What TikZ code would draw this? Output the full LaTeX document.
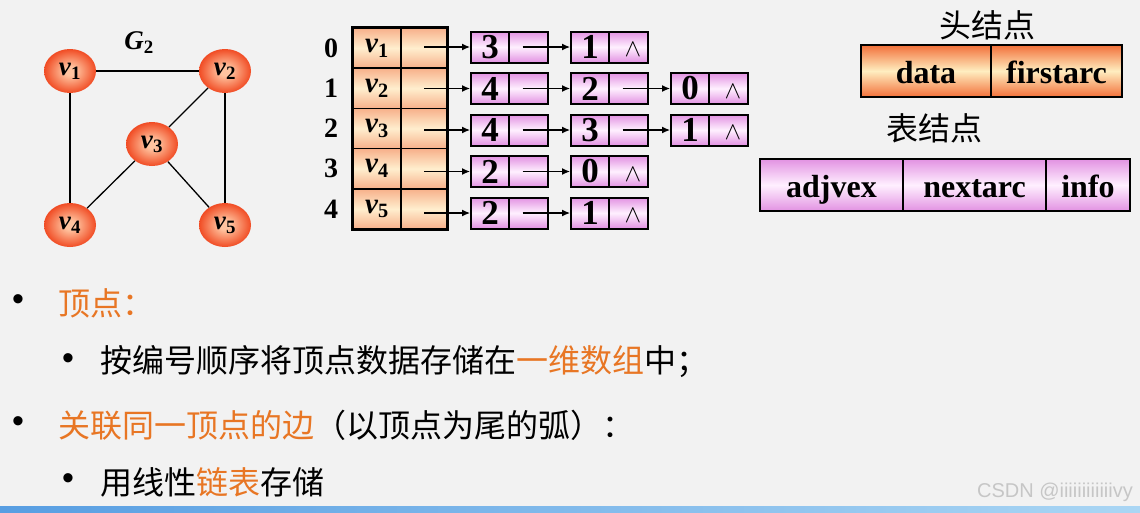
\documentclass[tikz,border=0pt]{standalone}
\usepackage{xcolor}
\usepackage{fontspec}
\setmainfont{Liberation Serif}
\newfontfamily\cjkfont{Noto Sans CJK SC}
\newfontfamily\markfont{Liberation Sans}
\usepackage{tikz}
\usetikzlibrary{shapes.geometric, arrows.meta, positioning, calc}
\definecolor{slideBg}{RGB}{242, 242, 242}
\definecolor{ballRed}{RGB}{240, 70, 30}
\definecolor{ballLight}{RGB}{255, 196, 160}
\definecolor{headTop}{RGB}{242, 112, 58}
\definecolor{headMid}{RGB}{255, 238, 192}
\definecolor{cellTop}{RGB}{247, 176, 138}
\definecolor{cellMid}{RGB}{255, 238, 206}
\definecolor{arcTop}{RGB}{226, 146, 226}
\definecolor{arcMid}{RGB}{255, 240, 255}
\definecolor{hiOrange}{RGB}{232, 118, 36}
\definecolor{barBlue}{RGB}{88, 158, 226}
\definecolor{barLight}{RGB}{170, 214, 244}
\pgfdeclareradialshading{vball}{\pgfpoint{0bp}{0bp}}{%
  color(0bp)=(ballLight); color(5bp)=(ballLight); color(26bp)=(ballRed); color(50bp)=(ballRed)}
\newcommand{\vlab}[1]{\textit{v}\textsubscript{#1}}
\tikzset{
  vert/.style={
    ellipse, minimum width=52pt, minimum height=44pt, inner sep=0pt,
    shading=vball, font=\fontsize{27}{27}\selectfont\bfseries
  },
  edge/.style={line width=1.3pt},
  idx/.style={font=\fontsize{28}{28}\selectfont\bfseries},
  hcell/.style={
    rectangle, draw=black, line width=1.5pt, inner sep=0pt,
    minimum height=40.2pt,
    top color=cellTop, bottom color=cellTop, middle color=cellMid,
    font=\fontsize{29}{29}\selectfont\bfseries
  },
  acell/.style={
    rectangle, draw=black, line width=2pt, inner sep=0pt,
    minimum height=31pt,
    top color=arcTop, bottom color=arcTop, middle color=arcMid,
    font=\fontsize{35}{35}\selectfont\bfseries
  },
  nullmark/.style={inner sep=0pt, font=\fontsize{24}{24}\selectfont},
  ptr/.style={-{Latex[length=8pt,width=7pt]}, line width=1.2pt},
  headbox/.style={
    rectangle, draw=black, line width=2.4pt, inner sep=0pt,
    minimum height=52pt, text height=24pt, text depth=0pt,
    top color=headTop, bottom color=headTop, middle color=headMid,
    font=\fontsize{32}{32}\selectfont\bfseries
  },
  arcbox/.style={
    rectangle, draw=black, line width=2.4pt, inner sep=0pt,
    minimum height=52pt, text height=24pt, text depth=0pt,
    top color=arcTop, bottom color=arcTop, middle color=arcMid,
    font=\fontsize{32}{32}\selectfont\bfseries
  },
  cjkhead/.style={font=\cjkfont\fontsize{32}{32}\selectfont},
  bline/.style={anchor=west, inner sep=0pt, font=\cjkfont\fontsize{32}{32}\selectfont},
  bul/.style={inner sep=0pt, font=\markfont\fontsize{34}{34}\selectfont}
}

\begin{document}
\begin{tikzpicture}[x=1pt, y=-1pt]

  % ── Slide background ──────────────────────────────────────────────────────
  \fill[slideBg] (0,0) rectangle (1140,512);
  \useasboundingbox (0,0) rectangle (1140,512);

  % ── Graph G2 ──────────────────────────────────────────────────────────────
  \node[font=\fontsize{27}{27}\selectfont\bfseries\itshape] (gname) at (139,43)
    {G\textsubscript{\upshape 2}};
  \node[vert] (v1) at (70,71) {\vlab{1}};
  \node[vert] (v2) at (225,71) {\vlab{2}};
  \node[vert] (v3) at (152,144) {\vlab{3}};
  \node[vert] (v4) at (70,225) {\vlab{4}};
  \node[vert] (v5) at (225,225) {\vlab{5}};
  \draw[edge] (v1) -- (v2);
  \draw[edge] (v1) -- (v4);
  \draw[edge] (v2) -- (v3);
  \draw[edge] (v2) -- (v5);
  \draw[edge] (v3) -- (v4);
  \draw[edge] (v3) -- (v5);

  % ── Vertex array ──────────────────────────────────────────────────────────
  \foreach \i/\k/\y in {0/1/48.1, 1/2/88.3, 2/3/128.5, 3/4/168.7, 4/5/208.9}{
    \node[idx] (i\i) at (331,\y) {\i};
    \node[hcell, minimum width=48pt] (d\i) at (377,\y) {\vlab{\k}};
    \node[hcell, minimum width=46pt] (p\i) at (424,\y) {};
  }
  \draw[line width=2.6pt] (d0.north west) rectangle (p4.south east);

  % ── Arc lists with two nodes ──────────────────────────────────────────────
  \foreach \r/\y/\a/\b in {0/47/3/1, 3/171.5/2/0, 4/213/2/1}{
    \node[acell, minimum width=38pt] (n\r1v) at (490,\y) {\a};
    \node[acell, minimum width=39pt] (n\r1p) at (528.5,\y) {};
    \node[acell, minimum width=38pt] (n\r2v) at (590,\y) {\b};
    \node[acell, minimum width=39pt] (n\r2p) at (628.5,\y) {};
    \node[nullmark] (z\r) at ([xshift=4.5pt,yshift=-3pt]n\r2p.center) {$\wedge$};
    \draw[ptr] (p\r.center |- n\r1v.west) -- (n\r1v.west);
    \draw[ptr] ([xshift=-6pt]n\r1p.center) -- (n\r2v.west);
  }

  % ── Arc lists with three nodes ────────────────────────────────────────────
  \foreach \r/\y/\a/\b/\c in {1/88.5/4/2/0, 2/130/4/3/1}{
    \node[acell, minimum width=38pt] (n\r1v) at (490,\y) {\a};
    \node[acell, minimum width=39pt] (n\r1p) at (528.5,\y) {};
    \node[acell, minimum width=38pt] (n\r2v) at (590,\y) {\b};
    \node[acell, minimum width=39pt] (n\r2p) at (628.5,\y) {};
    \node[acell, minimum width=38pt] (n\r3v) at (690,\y) {\c};
    \node[acell, minimum width=39pt] (n\r3p) at (728.5,\y) {};
    \node[nullmark] (z\r) at ([xshift=4.5pt,yshift=-3pt]n\r3p.center) {$\wedge$};
    \draw[ptr] (p\r.center |- n\r1v.west) -- (n\r1v.west);
    \draw[ptr] ([xshift=-6pt]n\r1p.center) -- (n\r2v.west);
    \draw[ptr] ([xshift=-6pt]n\r2p.center) -- (n\r3v.west);
  }

  % ── Node layouts ──────────────────────────────────────────────────────────
  \node[cjkhead] (hlabel) at (987,25) {头结点};
  \node[headbox, minimum width=130pt] (hdata) at (926,71) {data};
  \node[headbox, minimum width=131pt] (hfirst) at (1056.5,71) {firstarc};
  \node[cjkhead] (alabel) at (934,128) {表结点};
  \node[arcbox, minimum width=143pt] (aadj) at (831.5,185) {adjvex};
  \node[arcbox, minimum width=143pt] (anext) at (974.5,185) {nextarc};
  \node[arcbox, minimum width=84pt] (ainfo) at (1088,185) {info};

  % ── Bullet text ───────────────────────────────────────────────────────────
  \node[bul] (b1) at (18,303) {•};
  \node[bline, text=hiOrange] (t1) at (58,303) {顶点：};
  \node[bul] (b2) at (68,362) {•};
  \node[bline] (t2) at (100,362)
    {按编号顺序将顶点数据存储在\textcolor{hiOrange}{一维数组}中；};
  \node[bul] (b3) at (18,425) {•};
  \node[bline] (t3) at (58,425)
    {\textcolor{hiOrange}{关联同一顶点的边}（以顶点为尾的弧）：};
  \node[bul] (b4) at (68,482) {•};
  \node[bline] (t4) at (100,482)
    {用线性\textcolor{hiOrange}{链表}存储};

  % ── Footer ────────────────────────────────────────────────────────────────
  \node[font=\markfont\fontsize{20}{20}\selectfont, text=gray!45] (wm) at (1055,492)
    {CSDN @iiiiiiiiiiiivy};
  \shade[left color=barBlue, right color=barLight] (0,506) rectangle (1140,512);

\end{tikzpicture}
\end{document}
